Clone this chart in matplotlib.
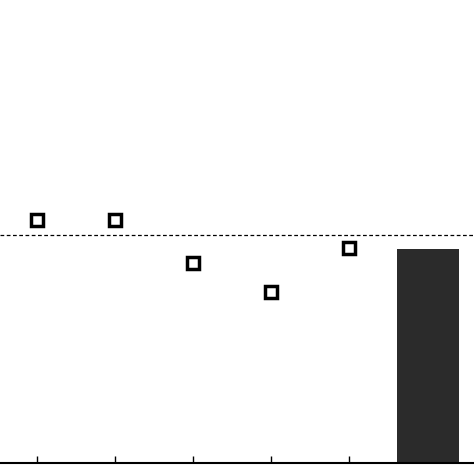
import matplotlib
matplotlib.use("Agg")
import matplotlib.pyplot as plt

xs = [1, 2, 3, 4, 5]
vals = [243, 243, 200, 171, 215]
ref_line = 228
bar_x = 6.01
bar_val = 214

fig = plt.figure(figsize=(4.74, 4.74), dpi=100)
ax = fig.add_axes([0, 11/474, 1, 463/474])
ax.plot(xs, vals, 's', ms=9, mfc='white', mec='black', mew=2.5, zorder=3)
ax.axhline(ref_line, ls=(0, (3, 2)), color='black', lw=0.9)
ax.bar([bar_x], [bar_val], width=0.79, color='#2b2b2b')
ax.set_xlim(0.526, 6.60)
ax.set_ylim(0, 463)
for s in ['top', 'left', 'right']:
    ax.spines[s].set_visible(False)
ax.spines['bottom'].set_linewidth(1.5)
ax.set_xticks(xs)
ax.set_xticklabels([])
ax.set_yticks([])
ax.tick_params(axis='x', direction='in', length=5, width=1)
fig.savefig("out.png", dpi=100)
